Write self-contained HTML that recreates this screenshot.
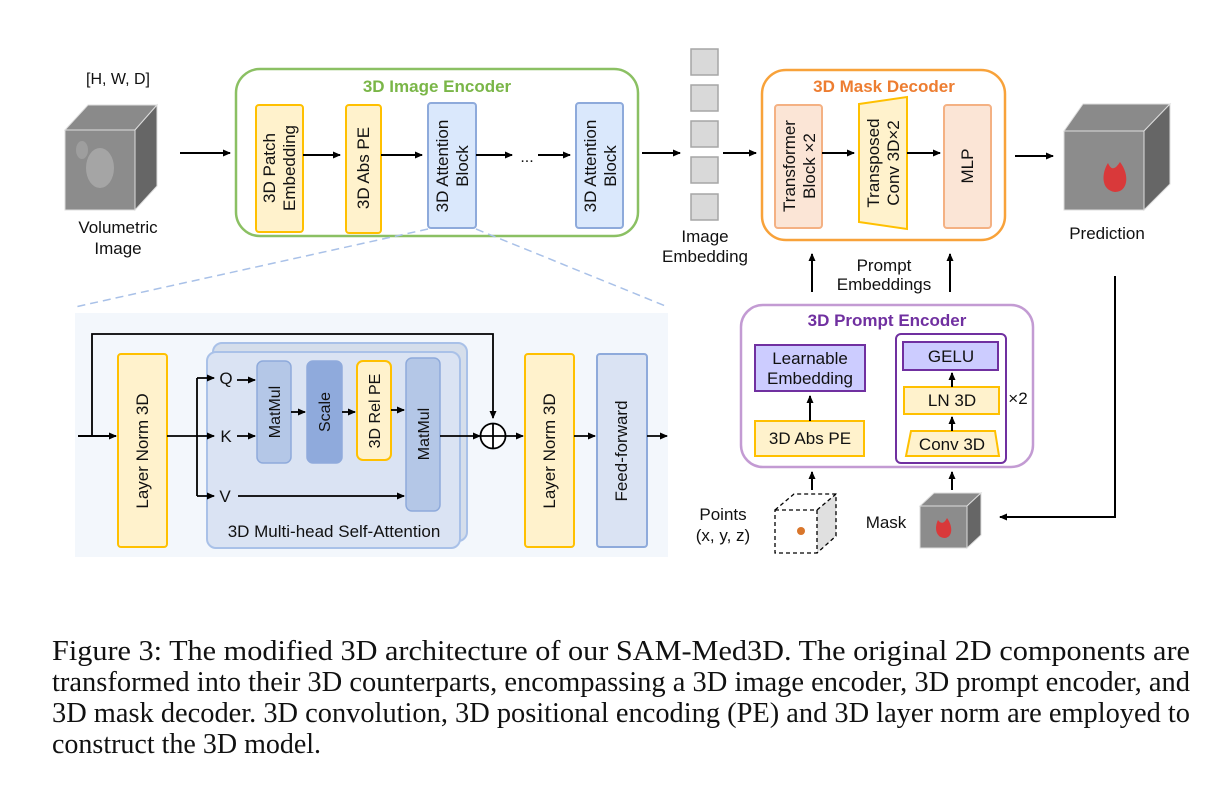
<!DOCTYPE html>
<html><head><meta charset="utf-8"><style>
html,body{margin:0;padding:0;background:#fff}
svg{display:block}
text{font-family:"Liberation Sans","DejaVu Sans",sans-serif}
.cap{font-family:"Liberation Serif",serif;font-size:28px;fill:#111}
</style></head><body>
<svg width="1223" height="789" viewBox="0 0 1223 789" xmlns="http://www.w3.org/2000/svg">
<defs>
<marker id="ar" markerWidth="8" markerHeight="8" refX="7" refY="4" orient="auto" markerUnits="userSpaceOnUse">
<path d="M0,0.5 L8,4 L0,7.5 z" fill="#000"/></marker>
</defs>
<g font-size="16" fill="#111">
<text x="118" y="84" text-anchor="middle">[H, W, D]</text>
<polygon points="65,130 88,105 157,105 135,130" fill="#8a8a8a" stroke="#ddd"/>
<polygon points="135,130 157,105 157,186 135,210" fill="#666" stroke="#ddd"/>
<rect x="65" y="130" width="70" height="80" fill="#8c8c8c" stroke="#ddd"/>
<ellipse cx="100" cy="168" rx="14" ry="20" fill="#a5a5a5"/>
<ellipse cx="82" cy="150" rx="6" ry="9" fill="#9e9e9e"/>
<text x="118" y="233" text-anchor="middle" font-size="17">Volumetric</text>
<text x="118" y="254" text-anchor="middle" font-size="17">Image</text>
<line x1="180" y1="153" x2="230" y2="153" stroke="#000" stroke-width="2" marker-end="url(#ar)"/>

<rect x="236" y="69" width="402" height="167" rx="24" fill="#fff" stroke="#8bc063" stroke-width="2.5"/>
<text x="437" y="92" text-anchor="middle" font-weight="bold" fill="#7ab648" font-size="17">3D Image Encoder</text>
<rect x="256" y="105" width="47" height="127" rx="3" fill="#fff2cc" stroke="#ffc000" stroke-width="2"/>
<text transform="translate(279,168) rotate(-90)" text-anchor="middle" font-size="17"><tspan x="0" y="-4">3D Patch</tspan><tspan x="0" y="16">Embedding</tspan></text>
<rect x="346" y="105" width="35" height="128" rx="3" fill="#fff2cc" stroke="#ffc000" stroke-width="2"/>
<text transform="translate(369,168) rotate(-90)" text-anchor="middle" font-size="17">3D Abs PE</text>
<rect x="428" y="103" width="48" height="125" rx="3" fill="#dae8fc" stroke="#8eaadb" stroke-width="2"/>
<text transform="translate(452,166) rotate(-90)" text-anchor="middle" font-size="17"><tspan x="0" y="-4">3D Attention</tspan><tspan x="0" y="16">Block</tspan></text>
<rect x="576" y="103" width="47" height="125" rx="3" fill="#dae8fc" stroke="#8eaadb" stroke-width="2"/>
<text transform="translate(600,166) rotate(-90)" text-anchor="middle" font-size="17"><tspan x="0" y="-4">3D Attention</tspan><tspan x="0" y="16">Block</tspan></text>
<line x1="303" y1="155" x2="340" y2="155" stroke="#000" stroke-width="2" marker-end="url(#ar)"/>
<line x1="381" y1="155" x2="422" y2="155" stroke="#000" stroke-width="2" marker-end="url(#ar)"/>
<line x1="476" y1="155" x2="512" y2="155" stroke="#000" stroke-width="2" marker-end="url(#ar)"/>
<text x="527" y="162" text-anchor="middle">...</text>
<line x1="538" y1="155" x2="570" y2="155" stroke="#000" stroke-width="2" marker-end="url(#ar)"/>
<line x1="642" y1="153" x2="680" y2="153" stroke="#000" stroke-width="2" marker-end="url(#ar)"/>

<g fill="#d9d9d9" stroke="#a6a6a6" stroke-width="1.5">
<rect x="691" y="49" width="27" height="26"/><rect x="691" y="85" width="27" height="26"/>
<rect x="691" y="121" width="27" height="26"/><rect x="691" y="157" width="27" height="26"/>
<rect x="691" y="194" width="27" height="26"/></g>
<text x="705" y="242" text-anchor="middle" font-size="17">Image</text>
<text x="705" y="262" text-anchor="middle" font-size="17">Embedding</text>
<line x1="723" y1="153" x2="756" y2="153" stroke="#000" stroke-width="2" marker-end="url(#ar)"/>

<rect x="762" y="70" width="243" height="170" rx="24" fill="#fff" stroke="#f8a23a" stroke-width="2.5"/>
<text x="884" y="92" text-anchor="middle" font-weight="bold" fill="#ed7d31" font-size="17">3D Mask Decoder</text>
<rect x="775" y="105" width="47" height="123" rx="3" fill="#fbe5d6" stroke="#f4b183" stroke-width="2"/>
<text transform="translate(799,166) rotate(-90)" text-anchor="middle" font-size="17"><tspan x="0" y="-4">Transformer</tspan><tspan x="0" y="16">Block ×2</tspan></text>
<polygon points="859,104 907,97 907,229 859,222" fill="#fff2cc" stroke="#ffc000" stroke-width="2"/>
<text transform="translate(883,163) rotate(-90)" text-anchor="middle" font-size="17"><tspan x="0" y="-4">Transposed</tspan><tspan x="0" y="16">Conv 3D×2</tspan></text>
<rect x="944" y="105" width="47" height="123" rx="3" fill="#fbe5d6" stroke="#f4b183" stroke-width="2"/>
<text transform="translate(973,166) rotate(-90)" text-anchor="middle" font-size="17">MLP</text>
<line x1="822" y1="153" x2="854" y2="153" stroke="#000" stroke-width="2" marker-end="url(#ar)"/>
<line x1="907" y1="153" x2="940" y2="153" stroke="#000" stroke-width="2" marker-end="url(#ar)"/>
<line x1="1015" y1="156" x2="1053" y2="156" stroke="#000" stroke-width="2" marker-end="url(#ar)"/>

<polygon points="1064,131 1083,104 1170,104 1144,131" fill="#8a8a8a" stroke="#ddd"/>
<polygon points="1144,131 1170,104 1170,184 1144,210" fill="#666" stroke="#ddd"/>
<rect x="1064" y="131" width="80" height="79" fill="#8c8c8c" stroke="#ddd"/>
<path d="M1108,163 C1102,172 1100,190 1115,192 C1128,192 1130,175 1120,162 C1116,168 1112,172 1108,163z" fill="#d9393a"/>
<text x="1107" y="239" text-anchor="middle" font-size="17">Prediction</text>
<polyline points="1115,276 1115,517 1000,517" fill="none" stroke="#000" stroke-width="2" marker-end="url(#ar)"/>

<line x1="812" y1="292" x2="812" y2="254" stroke="#000" stroke-width="2" marker-end="url(#ar)"/>
<line x1="950" y1="292" x2="950" y2="254" stroke="#000" stroke-width="2" marker-end="url(#ar)"/>
<text x="884" y="271" text-anchor="middle" font-size="17">Prompt</text>
<text x="884" y="290" text-anchor="middle" font-size="17">Embeddings</text>

<rect x="741" y="305" width="292" height="162" rx="22" fill="#fff" stroke="#c39bd3" stroke-width="2.5"/>
<text x="887" y="326" text-anchor="middle" font-weight="bold" fill="#7030a0" font-size="17">3D Prompt Encoder</text>
<rect x="755" y="345" width="110" height="46" fill="#ccccff" stroke="#7030a0" stroke-width="2"/>
<text x="810" y="364" text-anchor="middle" font-size="17">Learnable</text>
<text x="810" y="384" text-anchor="middle" font-size="17">Embedding</text>
<rect x="755" y="421" width="109" height="35" fill="#fff2cc" stroke="#ffc000" stroke-width="2"/>
<text x="810" y="444" text-anchor="middle" font-size="17">3D Abs PE</text>
<line x1="810" y1="421" x2="810" y2="396" stroke="#000" stroke-width="2" marker-end="url(#ar)"/>
<rect x="896" y="334" width="110" height="129" rx="5" fill="#fff" stroke="#7030a0" stroke-width="2"/>
<rect x="903" y="342" width="95" height="28" fill="#ccccff" stroke="#7030a0" stroke-width="2"/>
<text x="951" y="362" text-anchor="middle" font-size="17">GELU</text>
<rect x="904" y="387" width="95" height="27" fill="#fff2cc" stroke="#ffc000" stroke-width="2"/>
<text x="952" y="406" text-anchor="middle" font-size="17">LN 3D</text>
<polygon points="911,431 995,431 999,456 906,456" fill="#fff2cc" stroke="#ffc000" stroke-width="2"/>
<text x="952" y="450" text-anchor="middle" font-size="17">Conv 3D</text>
<line x1="952" y1="387" x2="952" y2="373" stroke="#000" stroke-width="2" marker-end="url(#ar)"/>
<line x1="952" y1="431" x2="952" y2="417" stroke="#000" stroke-width="2" marker-end="url(#ar)"/>
<text x="1018" y="404" text-anchor="middle" font-size="17">×2</text>
<line x1="812" y1="490" x2="812" y2="472" stroke="#000" stroke-width="2" marker-end="url(#ar)"/>
<line x1="952" y1="490" x2="952" y2="472" stroke="#000" stroke-width="2" marker-end="url(#ar)"/>

<text x="723" y="520" text-anchor="middle" font-size="17">Points</text>
<text x="723" y="541" text-anchor="middle" font-size="17">(x, y, z)</text>
<polygon points="817,510 836,494 836,536 817,553" fill="#e0e0e0" stroke="none"/>
<g fill="none" stroke="#000" stroke-width="1.3" stroke-dasharray="4,3">
<rect x="775" y="510" width="42" height="43"/>
<polyline points="775,510 794,494 836,494 836,536 817,553"/><line x1="817" y1="510" x2="836" y2="494"/></g>
<circle cx="801" cy="531" r="4" fill="#d9762b"/>
<text x="886" y="528" text-anchor="middle" font-size="17">Mask</text>
<polygon points="920,506 934,493 981,493 967,506" fill="#8a8a8a" stroke="#ddd"/>
<polygon points="967,506 981,493 981,535 967,548" fill="#666" stroke="#ddd"/>
<rect x="920" y="506" width="47" height="42" fill="#8c8c8c" stroke="#ddd"/>
<path d="M938,520 C934,528 936,538 945,538 C953,537 953,526 947,518 C944,524 941,524 938,520z" fill="#d9393a"/>

<line x1="428" y1="229" x2="75" y2="307" stroke="#a9c1e8" stroke-width="1.5" stroke-dasharray="8,5"/>
<line x1="476" y1="229" x2="668" y2="307" stroke="#a9c1e8" stroke-width="1.5" stroke-dasharray="8,5"/>
<rect x="75" y="313" width="593" height="244" fill="#f3f7fc"/>
<polyline points="92,436 92,334 493,334 493,418" fill="none" stroke="#000" stroke-width="1.8" marker-end="url(#ar)"/>
<line x1="78" y1="436" x2="116" y2="436" stroke="#000" stroke-width="2" marker-end="url(#ar)"/>
<rect x="118" y="354" width="49" height="193" rx="3" fill="#fff2cc" stroke="#ffc000" stroke-width="2"/>
<text transform="translate(148,451) rotate(-90)" text-anchor="middle" font-size="17">Layer Norm 3D</text>
<rect x="213" y="343" width="254" height="198" rx="9" fill="#d5deeb" stroke="#a9c1e8" stroke-width="2"/>
<rect x="207" y="352" width="253" height="196" rx="9" fill="#dae3f3" stroke="#a9c1e8" stroke-width="2"/>
<polyline points="167,436 197,436" fill="none" stroke="#000" stroke-width="1.8"/>
<line x1="197" y1="378" x2="197" y2="496" stroke="#000" stroke-width="1.8"/>
<line x1="197" y1="378" x2="214" y2="378" stroke="#000" stroke-width="1.8" marker-end="url(#ar)"/>
<line x1="197" y1="436" x2="214" y2="436" stroke="#000" stroke-width="1.8" marker-end="url(#ar)"/>
<line x1="197" y1="496" x2="214" y2="496" stroke="#000" stroke-width="1.8" marker-end="url(#ar)"/>
<text x="226" y="384" text-anchor="middle" font-size="17">Q</text>
<text x="226" y="442" text-anchor="middle" font-size="17">K</text>
<text x="225" y="502" text-anchor="middle" font-size="17">V</text>
<line x1="237" y1="380" x2="255" y2="380" stroke="#000" stroke-width="1.8" marker-end="url(#ar)"/>
<line x1="237" y1="436" x2="255" y2="436" stroke="#000" stroke-width="1.8" marker-end="url(#ar)"/>
<line x1="238" y1="496" x2="404" y2="496" stroke="#000" stroke-width="1.8" marker-end="url(#ar)"/>
<rect x="257" y="361" width="34" height="102" rx="6" fill="#b4c7e7" stroke="#8eaadb" stroke-width="1.5"/>
<text transform="translate(280,412) rotate(-90)" text-anchor="middle" font-size="16">MatMul</text>
<rect x="307" y="361" width="35" height="102" rx="6" fill="#8faadc" stroke="#8faadc" stroke-width="1.5"/>
<text transform="translate(330,412) rotate(-90)" text-anchor="middle" font-size="16">Scale</text>
<rect x="357" y="361" width="34" height="99" rx="6" fill="#fff2cc" stroke="#ffc000" stroke-width="2"/>
<text transform="translate(380,411) rotate(-90)" text-anchor="middle" font-size="16">3D Rel PE</text>
<rect x="406" y="358" width="34" height="153" rx="6" fill="#b4c7e7" stroke="#8eaadb" stroke-width="1.5"/>
<text transform="translate(429,434) rotate(-90)" text-anchor="middle" font-size="16">MatMul</text>
<line x1="291" y1="412" x2="305" y2="412" stroke="#000" stroke-width="1.8" marker-end="url(#ar)"/>
<line x1="342" y1="412" x2="355" y2="412" stroke="#000" stroke-width="1.8" marker-end="url(#ar)"/>
<line x1="391" y1="410" x2="404" y2="410" stroke="#000" stroke-width="1.8" marker-end="url(#ar)"/>
<text x="334" y="537" text-anchor="middle" font-size="17">3D Multi-head Self-Attention</text>
<line x1="440" y1="436" x2="480" y2="436" stroke="#000" stroke-width="1.8" marker-end="url(#ar)"/>
<circle cx="493" cy="436" r="12.5" fill="#fff" stroke="#000" stroke-width="1.8"/>
<line x1="480.5" y1="436" x2="505.5" y2="436" stroke="#000" stroke-width="1.8"/>
<line x1="493" y1="423.5" x2="493" y2="448.5" stroke="#000" stroke-width="1.8"/>
<line x1="505" y1="436" x2="523" y2="436" stroke="#000" stroke-width="1.8" marker-end="url(#ar)"/>
<rect x="525" y="354" width="49" height="193" rx="3" fill="#fff2cc" stroke="#ffc000" stroke-width="2"/>
<text transform="translate(555,451) rotate(-90)" text-anchor="middle" font-size="17">Layer Norm 3D</text>
<line x1="574" y1="436" x2="595" y2="436" stroke="#000" stroke-width="1.8" marker-end="url(#ar)"/>
<rect x="597" y="354" width="50" height="193" rx="3" fill="#dae3f3" stroke="#8eaadb" stroke-width="2"/>
<text transform="translate(627,451) rotate(-90)" text-anchor="middle" font-size="17">Feed-forward</text>
<line x1="647" y1="436" x2="667" y2="436" stroke="#000" stroke-width="1.8" marker-end="url(#ar)"/>
</g>

<text class="cap" x="52" y="660" textLength="1138" lengthAdjust="spacingAndGlyphs">Figure 3: The modified 3D architecture of our SAM-Med3D. The original 2D components are</text>
<text class="cap" x="52" y="691" textLength="1138" lengthAdjust="spacingAndGlyphs">transformed into their 3D counterparts, encompassing a 3D image encoder, 3D prompt encoder, and</text>
<text class="cap" x="52" y="722" textLength="1138" lengthAdjust="spacingAndGlyphs">3D mask decoder. 3D convolution, 3D positional encoding (PE) and 3D layer norm are employed to</text>
<text class="cap" x="52" y="753">construct the 3D model.</text>
</svg>
</body></html>
